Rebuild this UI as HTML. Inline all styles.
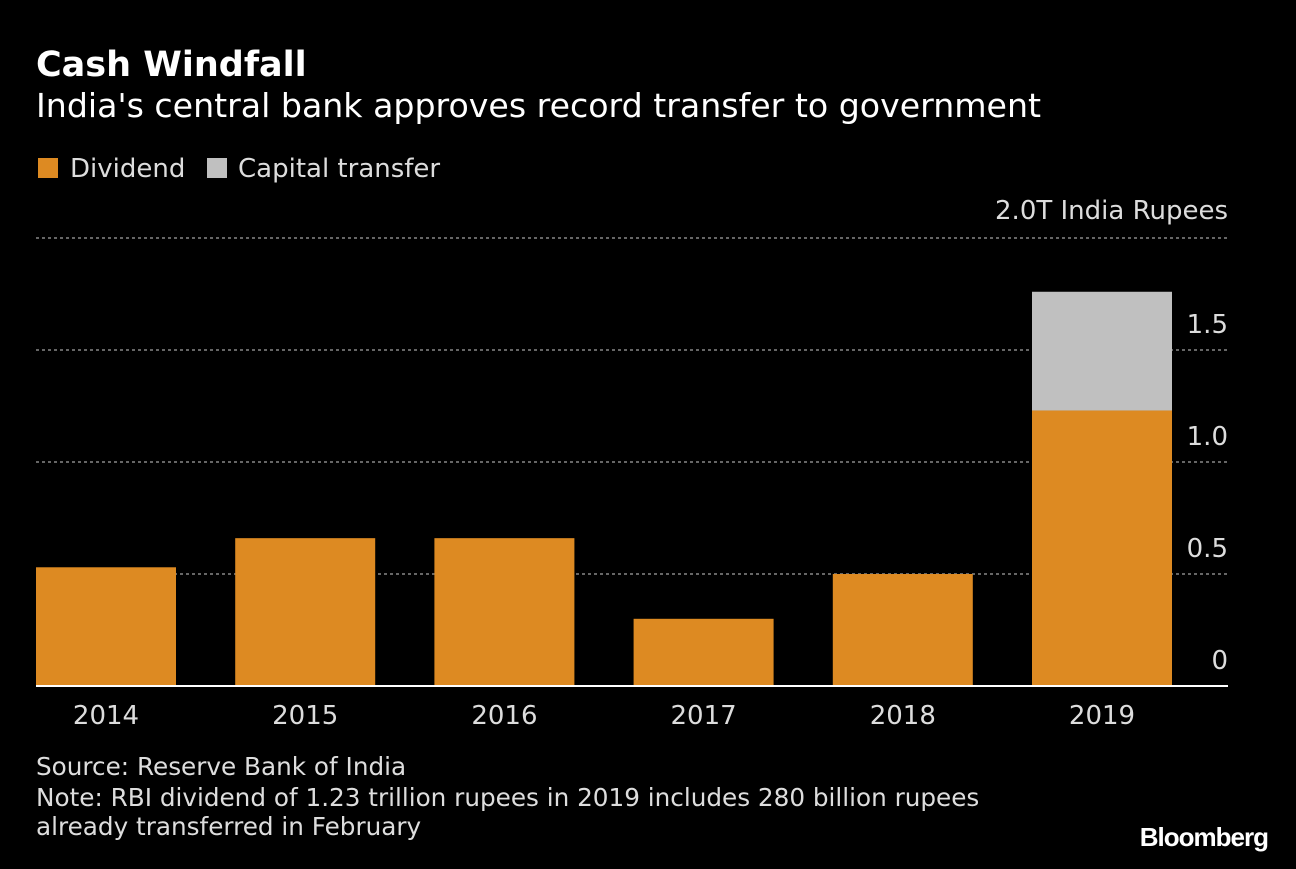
<!DOCTYPE html>
<html><head><meta charset="utf-8"><style>
body{margin:0;background:#000;width:1296px;height:864px;overflow:hidden;font-family:"Liberation Sans","DejaVu Sans",sans-serif;color:#fff}
</style></head><body>
<svg width="1296" height="864" xmlns="http://www.w3.org/2000/svg">
<rect width="1296" height="864" fill="#000"/>
<text x="36" y="76" font-size="35" font-weight="bold" fill="#fff" font-family="DejaVu Sans, sans-serif">Cash Windfall</text>
<text x="36" y="117" font-size="33.2" fill="#fff" font-family="DejaVu Sans, sans-serif">India's central bank approves record transfer to government</text>
<g font-family="DejaVu Sans, sans-serif" font-size="26" fill="#ddd">
<rect x="38" y="158" width="20" height="20" fill="#dd8a22"/>
<text x="70" y="177">Dividend</text>
<rect x="207" y="158" width="20" height="20" fill="#c0c0c0"/>
<text x="238" y="177">Capital transfer</text>
</g>
<text x="1228" y="219" text-anchor="end" font-size="26" fill="#ddd" font-family="DejaVu Sans, sans-serif">2.0T India Rupees</text>
<g id="grid"></g>
<g id="bars"></g>
<g id="labels"></g>
<line x1="36" x2="1228" y1="686" y2="686" stroke="#fff" stroke-width="2"/>
<g font-family="DejaVu Sans, sans-serif" font-size="24.7" fill="#ddd">
<text x="36" y="775">Source: Reserve Bank of India</text>
<text x="36" y="806">Note: RBI dividend of 1.23 trillion rupees in 2019 includes 280 billion rupees</text>
<text x="36" y="835">already transferred in February</text>
</g>
<text x="1268" y="846" text-anchor="end" font-size="26" font-weight="bold" fill="#fff" letter-spacing="-1">Bloomberg</text>
</svg>
<script>
const years=["2014","2015","2016","2017","2018","2019"];
const dividend=[0.53,0.66,0.66,0.30,0.50,1.23];
const capital=[0,0,0,0,0,0.53];
const ticks=[0,0.5,1.0,1.5];
const ns="http://www.w3.org/2000/svg";
const y0=686,pxPer=224,x0=36,step=199.2,bw=140;
const yS=v=>y0-v*pxPer, xS=i=>x0+i*step;
function mk(t,a,p){const e=document.createElementNS(ns,t);for(const k in a)e.setAttribute(k,a[k]);p.appendChild(e);return e;}
const grid=document.getElementById('grid'),bars=document.getElementById('bars'),labels=document.getElementById('labels');
[0.5,1.0,1.5,2.0].forEach(v=>{const l=mk('line',{x1:36,x2:1228,y1:yS(v),y2:yS(v),stroke:'#888','stroke-width':1.5,'stroke-dasharray':'3,3'},grid);

});
ticks.forEach(v=>{const t=mk('text',{x:1228,y:yS(v)-17,'text-anchor':'end','font-size':26,fill:'#ddd','font-family':'DejaVu Sans, sans-serif'},labels);t.textContent=v===0?'0':v.toFixed(1);

});
years.forEach((y,i)=>{
const r=mk('rect',{x:xS(i),y:yS(dividend[i]),width:bw,height:dividend[i]*pxPer,fill:'#dd8a22'},bars);


if(capital[i]>0){const c=mk('rect',{x:xS(i),y:yS(dividend[i]+capital[i]),width:bw,height:capital[i]*pxPer,fill:'#c0c0c0'},bars);

}
const t=mk('text',{x:xS(i)+bw/2,y:724,'text-anchor':'middle','font-size':26,fill:'#ddd','font-family':'DejaVu Sans, sans-serif'},labels);t.textContent=y;


});
</script>
</body></html>
